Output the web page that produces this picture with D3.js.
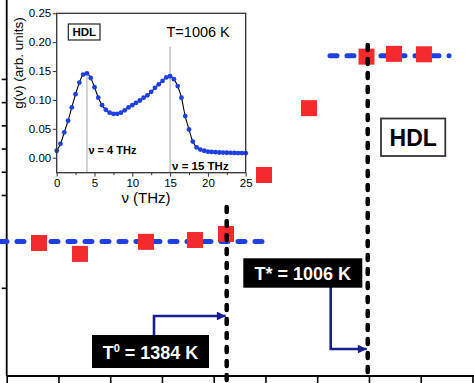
<!DOCTYPE html>
<html>
<head>
<meta charset="utf-8">
<script src="https://cdn.jsdelivr.net/npm/d3@7"></script>
<style>
  html, body { margin: 0; padding: 0; background: #fff; }
  svg { display: block; font-family: "Liberation Sans", Arial, sans-serif; }
</style>
</head>
<body>
<svg id="chart" width="474" height="383"></svg>
<script>
// ---------- main panel data (x = 1000/T, y = arbitrary units) ----------
const xTicks = [0.3, 0.4, 0.5, 0.6, 0.7, 0.8, 0.9, 1.0, 1.1, 1.2];
const yTicks = [2, 3, 4, 4.5, 5, 5.5, 6, 6.5];
const pointX = [0.3624, 0.4416, 0.5692, 0.6638, 0.7238, 0.7972, 0.8841, 0.9953, 1.0484, 1.1063];
const pointY = [2.965, 2.73, 2.99, 3.03, 3.16, 4.43, 5.87, 6.98, 7.04, 7.03];
const levelStart = [0.287, 0.9247];
const levelEnd   = [0.805, 1.1547];
const levelValue = [3.0, 7.0];
const transX     = [0.7251, 0.9976];       // T0 = 1384 K, T* = 1006 K
const transTop   = [3.74, 7.23];
const transLabels = ["T0 = 1384 K", "T* = 1006 K"];

// ---------- inset data: g(nu) ----------
const nu = [0, 0.5, 1, 1.5, 2, 2.5, 3, 3.5, 4, 4.5, 5, 5.5, 6, 6.5, 7, 7.5, 8, 8.5, 9, 9.5,
            10, 10.5, 11, 11.5, 12, 12.5, 13, 13.5, 14, 14.5, 15, 15.5, 16, 16.5, 17, 17.5,
            18, 18.5, 19, 19.5, 20, 20.5, 21, 21.5, 22, 22.5, 23, 23.5, 24, 24.5, 25];
const g = [0.012, 0.024, 0.044, 0.064, 0.087, 0.110, 0.130, 0.144, 0.146, 0.138, 0.122, 0.104,
           0.091, 0.083, 0.078, 0.076, 0.076, 0.078, 0.082, 0.087, 0.091, 0.095, 0.099, 0.104,
           0.108, 0.114, 0.121, 0.127, 0.133, 0.139, 0.141, 0.136, 0.124, 0.104, 0.072, 0.049,
           0.028, 0.018, 0.014, 0.012, 0.0105, 0.010, 0.0095, 0.009, 0.0088, 0.0086, 0.0084,
           0.0082, 0.008, 0.008, 0.0078];
const insetXTicks = [0, 5, 10, 15, 20, 25];
const insetXMinor = [2.5, 7.5, 12.5, 17.5, 22.5];
const insetYTicks = [0, 0.05, 0.10, 0.15, 0.20, 0.25];
const peakNu = [4, 15];
const peakTop = [0.149, 0.192];

const svg = d3.select("#chart");
const RED = "#f42a2c", BLUE = "#1e3fe2", NAVY = "#17208c";

// ---------- main scales ----------
const x = d3.scaleLinear().domain([0.3, 1.2]).range([6.7, 472.45]);
const y = d3.scaleLinear().domain([0.1, 8.2]).range([376, 0]);

// axes
const gx = svg.append("g").attr("transform", `translate(0,${y(0.1)})`)
  .call(d3.axisBottom(x).tickValues(xTicks).tickSize(7).tickFormat(""));
gx.select(".domain").remove();
gx.selectAll("line").attr("stroke", "#000").attr("stroke-width", 1.6);
svg.append("line").attr("x1", x(0.3)).attr("x2", 474).attr("y1", y(0.1)).attr("y2", y(0.1))
  .attr("stroke", "#000").attr("stroke-width", 1.8);

const gy = svg.append("g").attr("transform", `translate(${x(0.3)},0)`)
  .call(d3.axisLeft(y).tickValues(yTicks).tickSize(5).tickFormat(""));
gy.select(".domain").remove();
gy.selectAll("line").attr("stroke", "#000").attr("stroke-width", 1.6);
svg.append("line").attr("x1", x(0.3)).attr("x2", x(0.3)).attr("y1", 0).attr("y2", y(0.1))
  .attr("stroke", "#000").attr("stroke-width", 1.8);

// blue dashed plateau levels
svg.selectAll(".level").data(levelValue).enter().append("line")
  .attr("x1", (d, i) => x(levelStart[i])).attr("x2", (d, i) => x(levelEnd[i]))
  .attr("y1", d => y(d)).attr("y2", d => y(d))
  .attr("stroke", BLUE).attr("stroke-width", 5)
  .attr("stroke-dasharray", "7,10").attr("stroke-linecap", "round");

// red squares
const S = 16;
svg.selectAll(".pt").data(pointX).enter().append("rect")
  .attr("x", d => x(d) - S / 2).attr("y", (d, i) => y(pointY[i]) - S / 2)
  .attr("width", S).attr("height", S).attr("fill", RED);

// black vertical dashed transition lines
svg.selectAll(".trans").data(transX).enter().append("line")
  .attr("x1", d => x(d)).attr("x2", d => x(d))
  .attr("y1", (d, i) => y(transTop[i])).attr("y2", 381)
  .attr("stroke", "#000").attr("stroke-width", 4.5)
  .attr("stroke-dasharray", "5,9").attr("stroke-linecap", "round");

// ---------- annotations ----------
svg.append("defs").append("marker")
  .attr("id", "arr").attr("viewBox", "0 0 10 10").attr("refX", 10).attr("refY", 5)
  .attr("markerWidth", 6).attr("markerHeight", 3.4).attr("markerUnits", "strokeWidth")
  .attr("orient", "auto")
  .append("path").attr("d", "M0,0 L10,5 L0,10 Z").attr("fill", NAVY);

// T0 box
const t0x = x(transX[0]);
svg.append("path")
  .attr("d", `M154,336 L154,316 L${t0x - 1},316`)
  .attr("fill", "none").attr("stroke", NAVY).attr("stroke-width", 2.6)
  .attr("marker-end", "url(#arr)");
svg.append("rect").attr("x", 92).attr("y", 335).attr("width", 117).attr("height", 33).attr("fill", "#000");
const t0 = svg.append("text").attr("x", 150.5).attr("y", 359).attr("text-anchor", "middle")
  .attr("fill", "#fff").attr("font-weight", "bold").attr("font-size", 18);
t0.append("tspan").text("T");
t0.append("tspan").attr("dy", -7).attr("font-size", 11).text("0");
t0.append("tspan").attr("dy", 7).text(" = 1384 K");

// T* box
const tsx = x(transX[1]);
svg.append("path")
  .attr("d", `M330.7,287 L330.7,349 L${tsx - 1},349`)
  .attr("fill", "none").attr("stroke", NAVY).attr("stroke-width", 2.6)
  .attr("marker-end", "url(#arr)");
svg.append("rect").attr("x", 243.3).attr("y", 258.3).attr("width", 119).attr("height", 29.4).attr("fill", "#000");
svg.append("text").attr("x", 302.8).attr("y", 279.5).attr("text-anchor", "middle")
  .attr("fill", "#fff").attr("font-weight", "bold").attr("font-size", 18).text(transLabels[1]);

// HDL box
svg.append("rect").attr("x", 381).attr("y", 118.5).attr("width", 64.3).attr("height", 37.5)
  .attr("fill", "#fff").attr("stroke", "#333").attr("stroke-width", 1.8);
svg.append("text").attr("x", 413.2).attr("y", 146).attr("text-anchor", "middle")
  .attr("font-weight", "bold").attr("font-size", 23).attr("fill", "#000").text("HDL");

// ---------- inset ----------
const ix = d3.scaleLinear().domain([0, 25]).range([56.7, 245.7]);
const iy = d3.scaleLinear().domain([0, 0.25]).range([157.7, 13.3]);
const inset = svg.append("g");
const iBottom = 172.7;

inset.selectAll(".peak").data(peakNu).enter().append("line")
  .attr("x1", d => ix(d)).attr("x2", d => ix(d))
  .attr("y1", (d, i) => iy(peakTop[i])).attr("y2", iBottom)
  .attr("stroke", "#c4c4c4").attr("stroke-width", 1.5);

inset.append("path").datum(nu)
  .attr("d", d3.line().x(d => ix(d)).y((d, i) => iy(g[i])).curve(d3.curveMonotoneX))
  .attr("fill", "none").attr("stroke", "#000").attr("stroke-width", 1.1);
inset.selectAll(".dot").data(nu).enter().append("circle")
  .attr("cx", d => ix(d)).attr("cy", (d, i) => iy(g[i])).attr("r", 2.4).attr("fill", BLUE);

inset.append("rect").attr("x", ix(0)).attr("y", iy(0.25)).attr("width", ix(25) - ix(0))
  .attr("height", iBottom - iy(0.25)).attr("fill", "none").attr("stroke", "#333").attr("stroke-width", 1.3);

const ixAx = inset.append("g").attr("transform", `translate(0,${iBottom})`)
  .call(d3.axisBottom(ix).tickValues(insetXTicks).tickSize(4).tickPadding(2).tickFormat(d3.format("d")));
ixAx.select(".domain").remove();
ixAx.selectAll("text").attr("font-size", 11.5).attr("fill", "#000").attr("font-family", "Liberation Sans, Arial, sans-serif");
ixAx.selectAll("line").attr("stroke", "#333");
const ixMin = inset.append("g").attr("transform", `translate(0,${iBottom})`)
  .call(d3.axisBottom(ix).tickValues(insetXMinor).tickSize(2.5).tickFormat(""));
ixMin.select(".domain").remove();
ixMin.selectAll("line").attr("stroke", "#333");

const iyAx = inset.append("g").attr("transform", `translate(${ix(0)},0)`)
  .call(d3.axisLeft(iy).tickValues(insetYTicks).tickSize(4).tickPadding(1.5).tickFormat(d3.format(".2f")));
iyAx.select(".domain").remove();
iyAx.selectAll("text").attr("font-size", 11.5).attr("fill", "#000").attr("font-family", "Liberation Sans, Arial, sans-serif");
iyAx.selectAll("line").attr("stroke", "#333");

inset.append("text").attr("x", 146).attr("y", 203).attr("text-anchor", "middle")
  .attr("font-size", 15).attr("fill", "#000").text("ν (THz)");
inset.append("text").attr("transform", "translate(23,63) rotate(-90)").attr("text-anchor", "middle")
  .attr("font-size", 13.5).attr("fill", "#000").text("g(ν) (arb. units)");
inset.append("rect").attr("x", 68.3).attr("y", 24).attr("width", 31.7).attr("height", 16)
  .attr("fill", "#fff").attr("stroke", "#222").attr("stroke-width", 1.2);
inset.append("text").attr("x", 84.2).attr("y", 36.3).attr("text-anchor", "middle")
  .attr("font-weight", "bold").attr("font-size", 11.5).attr("fill", "#000").text("HDL");
inset.append("text").attr("x", 166.5).attr("y", 37).attr("font-size", 14.5).attr("fill", "#000").text("T=1006 K");
inset.append("text").attr("x", ix(peakNu[0]) + 1.5).attr("y", 154).attr("font-weight", "bold")
  .attr("font-size", 11).attr("fill", "#000").text("ν = 4 THz");
inset.append("text").attr("x", ix(peakNu[1]) + 2).attr("y", 169.5).attr("font-weight", "bold")
  .attr("font-size", 11.5).attr("fill", "#000").text("ν = 15 THz");
</script>
</body>
</html>
